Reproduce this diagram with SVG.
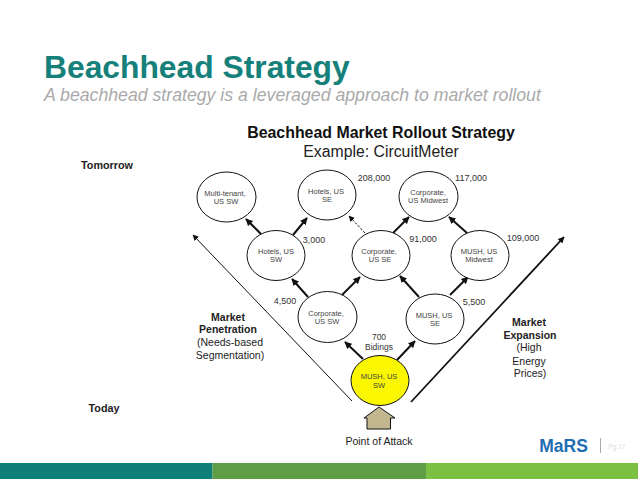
<svg xmlns="http://www.w3.org/2000/svg" width="638" height="479" viewBox="0 0 638 479">
<style>
text{font-family:"Liberation Sans",Arial,sans-serif;text-anchor:middle;fill:#222}
.n{font-size:7.5px;fill:#444}
.v{font-size:9px;fill:#333}
.l{font-size:10.5px;fill:#222}
.b{font-size:10.5px;font-weight:bold;fill:#222}
ellipse{fill:#fff;stroke:#111;stroke-width:1}
.a{fill:none;stroke:#111;stroke-width:2;marker-end:url(#h)}
.t{fill:none;stroke:#111;stroke-width:1;marker-end:url(#h2)}
</style>
<defs>
<marker id="h" viewBox="0 0 10 10" refX="9" refY="5" markerWidth="3.6" markerHeight="3.6" orient="auto"><path d="M0 0L10 5L0 10z" fill="#111"/></marker>
<marker id="h2" viewBox="0 0 10 10" refX="9" refY="5" markerWidth="6" markerHeight="6" orient="auto"><path d="M0 0L10 5L0 10z" fill="#111"/></marker>
</defs>
<rect width="638" height="479" fill="#fff"/>
<text x="44" y="78" style="font-size:31.8px;font-weight:bold;fill:#16807a;text-anchor:start">Beachhead Strategy</text>
<text x="44" y="101" style="font-size:17.7px;font-style:italic;fill:#aaa;text-anchor:start">A beachhead strategy is a leveraged approach to market rollout</text>
<text x="381" y="138" style="font-size:15.9px;font-weight:bold;fill:#111">Beachhead Market Rollout Strategy</text>
<text x="381" y="157" style="font-size:15.8px">Example: CircuitMeter</text>
<text x="107" y="169" class="b" style="font-size:10.8px">Tomorrow</text>
<text x="104" y="412" class="b" style="font-size:10.8px">Today</text>
<g id="connectors">
<path class="t" d="M352 401L193 235"/>
<path class="a" d="M411 402L564 237" style="stroke-width:1.8"/>
<path class="a" d="M363 359L345 342"/>
<path class="a" d="M397 360L415 341"/>
<path class="a" d="M308 297L292 279"/>
<path class="a" d="M342 295L360 277"/>
<path class="a" d="M419 297L400 276"/>
<path class="a" d="M450 295L468 277"/>
<path class="a" d="M261 234L246 219"/>
<path class="a" d="M293 235L307 218"/>
<path class="a" d="M393 233L409 217"/>
<path class="a" d="M467 233L449 217"/>
<path d="M365 233L349 216" fill="none" stroke="#111" stroke-width="1" stroke-dasharray="2.5 1.5" marker-end="url(#h2)"/>
</g>
<g id="n1"><ellipse cx="226.500" cy="197" rx="29.500" ry="25"/><text class="n" x="225" y="196">Multi-tenant,</text><text class="n" x="226" y="204">US SW</text></g>
<g id="n2"><ellipse cx="327" cy="195" rx="29" ry="25"/><text class="n" x="326" y="194">Hotels, US</text><text class="n" x="327" y="202">SE</text></g>
<g id="n3"><ellipse cx="428.500" cy="196.500" rx="29.500" ry="25"/><text class="n" x="428" y="195">Corporate,</text><text class="n" x="428" y="203">US Midwest</text></g>
<g id="n4"><ellipse cx="276" cy="255.500" rx="29" ry="25"/><text class="n" x="276" y="254">Hotels, US</text><text class="n" x="276" y="262">SW</text></g>
<g id="n5"><ellipse cx="381" cy="255.500" rx="29" ry="25"/><text class="n" x="379" y="254">Corporate,</text><text class="n" x="380" y="262">US SE</text></g>
<g id="n6"><ellipse cx="480" cy="255.500" rx="29" ry="25"/><text class="n" x="479" y="254">MUSH, US</text><text class="n" x="479" y="262">Midwest</text></g>
<g id="n7"><ellipse cx="327.500" cy="317" rx="29.500" ry="25.500"/><text class="n" x="326" y="316">Corporate,</text><text class="n" x="327" y="324">US SW</text></g>
<g id="n8"><ellipse cx="435" cy="319" rx="29" ry="25"/><text class="n" x="434" y="318">MUSH, US</text><text class="n" x="435" y="326">SE</text></g>
<g id="n9"><ellipse cx="380" cy="380.500" rx="29" ry="25" style="fill:#fbf700"/><text class="n" x="379" y="379">MUSH, US</text><text class="n" x="379" y="388">SW</text></g>
<g id="attack"><path d="M379 407L395 418L390.500 418L390.500 429L367 429L367 418L364 418Z" fill="#c2b78f" stroke="#111"/><text class="l" x="379" y="445">Point of Attack</text></g>
<text class="v" x="374" y="181">208,000</text><text class="v" x="471" y="181">117,000</text>
<text class="v" x="314" y="243">3,000</text><text class="v" x="423" y="242">91,000</text><text class="v" x="523" y="241">109,000</text>
<text class="v" x="285" y="304">4,500</text><text class="v" x="474" y="305">5,500</text>
<text class="v" x="379" y="340" style="font-size:8.500px">700</text><text class="v" x="379" y="350" style="font-size:8.500px">Bidings</text>
<text class="b" x="228" y="321">Market</text><text class="b" x="228" y="333">Penetration</text><text class="l" x="230" y="346">(Needs-based</text><text class="l" x="230" y="359">Segmentation)</text>
<text class="b" x="529" y="326">Market</text><text class="b" x="530" y="339">Expansion</text><text class="l" x="529" y="351">(High</text><text class="l" x="529" y="365">Energy</text><text class="l" x="530" y="377">Prices)</text>
<text x="563.500" y="452" style="font-size:17.500px;font-weight:bold;fill:#1f6db3">MaRS</text>
<path d="M600.500 438V453" stroke="#aaa"/>
<text x="617" y="449" style="font-size:6.500px;fill:#ddd">Pg 17</text>
<rect y="463" width="212.500" height="16" fill="#0f7f78"/>
<rect x="212.500" y="463" width="213.500" height="16" fill="#5f9e47"/>
<rect x="426" y="463" width="212" height="16" fill="#7cc043"/>
</svg>
